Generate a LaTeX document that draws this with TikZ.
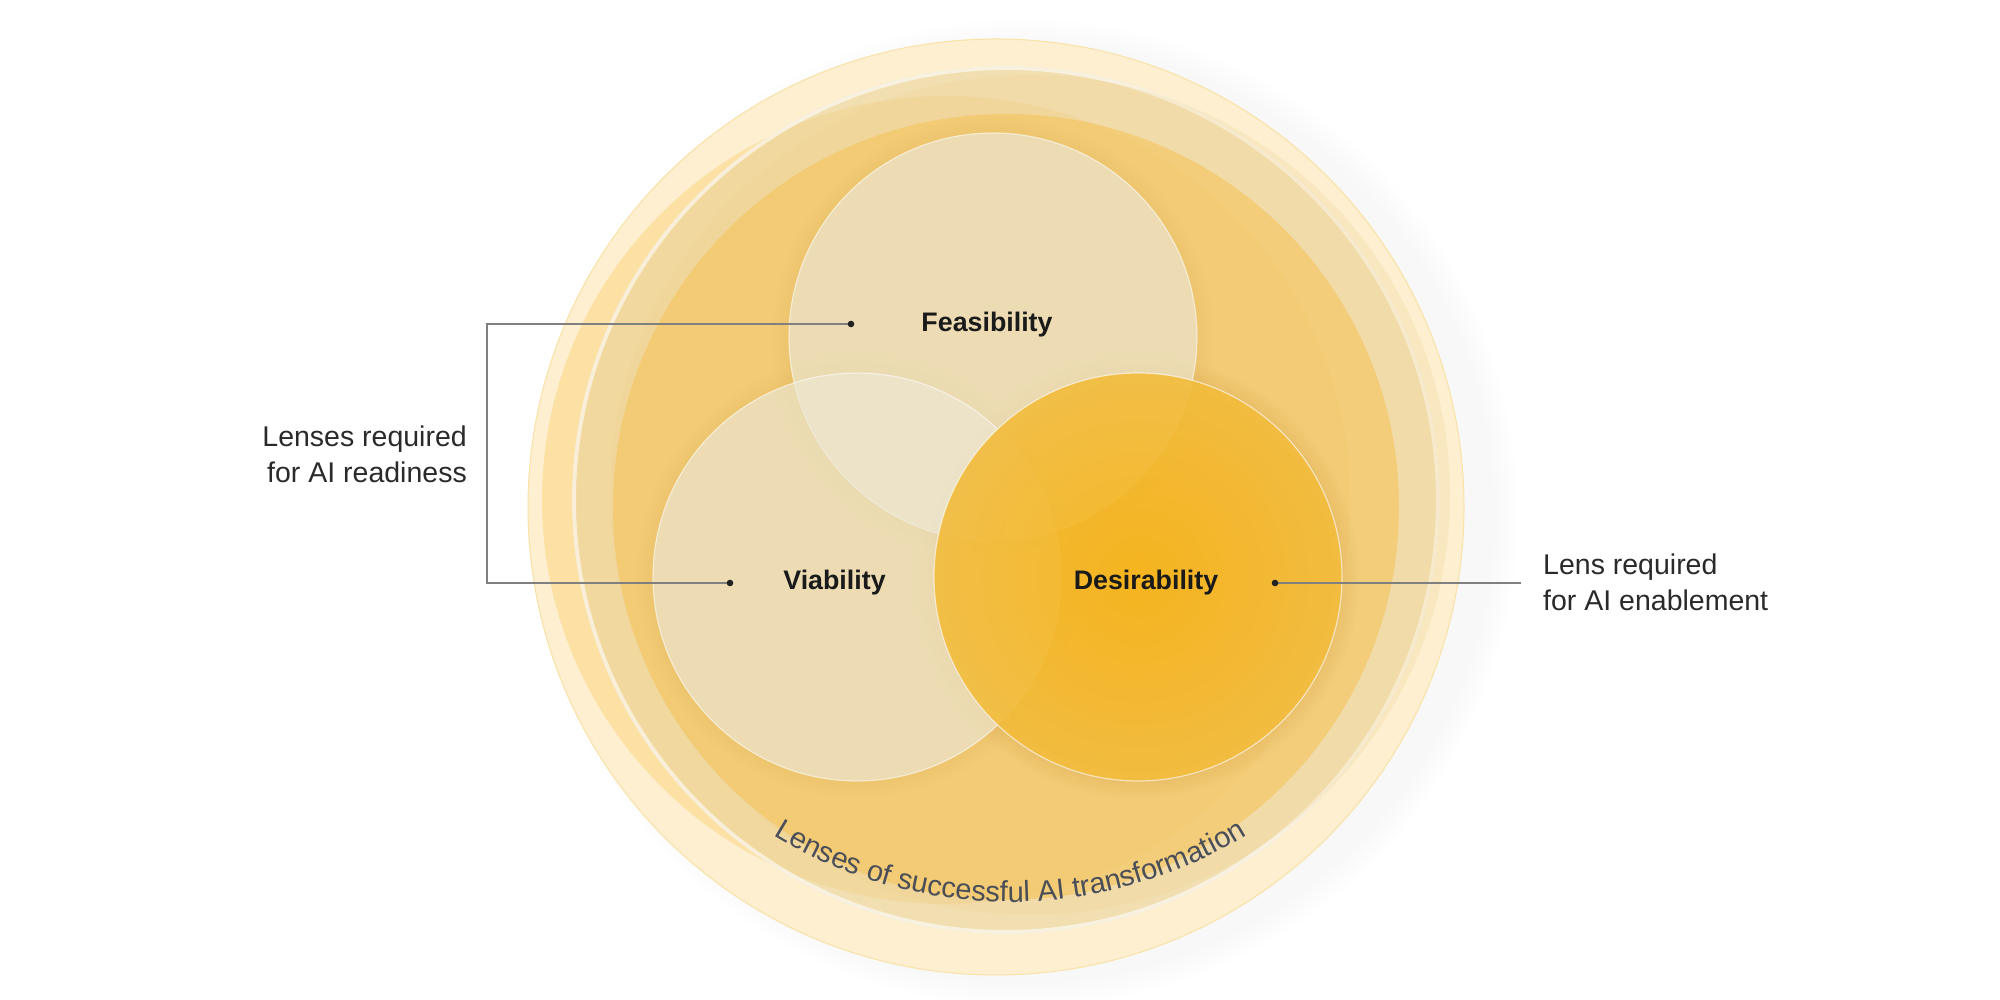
\documentclass[tikz,border=0pt]{standalone}
\usepackage{fontspec}
\setmainfont{Liberation Sans}
\usetikzlibrary{decorations.text}
\definecolor{cA}{HTML}{FDEFCF}
\definecolor{cAedge}{HTML}{F9E2A6}
\definecolor{cE}{HTML}{FDD888}
\definecolor{cB}{HTML}{E8D19A}
\definecolor{cC}{HTML}{EFD394}
\definecolor{cD}{HTML}{F5C45A}
\definecolor{cLens}{HTML}{EDE8D4}
\definecolor{cDesIn}{HTML}{F7B317}
\definecolor{cDesOut}{HTML}{F2BC3C}
\definecolor{cShadow}{HTML}{9A6A18}
\definecolor{cHalo}{HTML}{8A9A9A}
\definecolor{cConn}{HTML}{808080}
\definecolor{cDot}{HTML}{222222}
\definecolor{cLbl}{HTML}{2A2A2A}
\definecolor{cBold}{HTML}{1A1A1A}
\definecolor{cCurve}{HTML}{4A4E58}
\newcommand{\curvefont}{\fontsize{29}{30}\selectfont}
\begin{document}
\begin{tikzpicture}[x=1pt,y=1pt,
  conn/.style={draw=cConn, line width=1.3pt},
  dotmark/.style={fill=cDot},
  lbl/.style={font=\fontsize{28.5}{36}\selectfont, text=cLbl, inner sep=0pt},
  boldlbl/.style={font=\fontsize{26.8}{30}\selectfont\bfseries, text=cBold, inner sep=0pt, anchor=base},
  lens/.style={fill=cLens, fill opacity=0.68, draw=white, draw opacity=0.55, line width=1.2pt},
]
\useasboundingbox (0,0) rectangle (2000,1000);
\fill[white] (0,0) rectangle (2000,1000);

% soft outer shadow
\foreach \r in {470,474,...,494} \fill[cHalo, opacity=0.006] (1024,487) circle (\r);

% outer stack of lenses
\fill[cA] (996,493) circle (468);
\draw[cAedge, line width=1pt] (996,493) circle (468);
\fill[cE, fill opacity=0.6] (946,500) circle (404);
\fill[cB, fill opacity=0.55] (1006,500) circle (434);
\draw[white, draw opacity=0.6, line width=4pt] (1006,500) circle (432);
\fill[cC, fill opacity=0.25] (1030,505) circle (420);
\fill[cD, fill opacity=0.6] (1006,493) circle (393);

% halos of the three lenses
\foreach \r in {206,209,...,221} {
  \fill[cShadow, opacity=0.006] (993,663) circle (\r);
  \fill[cShadow, opacity=0.006] (857,423) circle (\r);
  \fill[cShadow, opacity=0.010] (1138,423) circle (\r);
}

% three lenses
\path[lens] (993,663) circle (204);
\path[lens] (857,423) circle (204);
\shade[inner color=cDesIn, outer color=cDesOut, opacity=0.9] (1138,423) circle (204);
\draw[white, draw opacity=0.6, line width=1.2pt] (1138,423) circle (204);

% curved caption
\path[decorate, decoration={text along path, text align=center, text color=cCurve,
  text={|\curvefont|Lenses of successful AI transformation}}]
  (1010,550) ++(226:452) arc[start angle=226, end angle=314, radius=452];

% labels
\node[boldlbl] (feas) at (987,668) {Feasibility};
\node[boldlbl] (viab) at (834.5,410) {Viability};
\node[boldlbl] (desi) at (1146,410) {Desirability};

\node[lbl, align=right, anchor=base east] (ltext) at (467,517) {Lenses required\\for AI readiness};
\node[lbl, align=left, anchor=base west] (rtext) at (1543,389) {Lens required\\for AI enablement};

% connectors
\coordinate (fdot) at (851,676);
\coordinate (vdot) at (730,417);
\coordinate (ddot) at (1275,417);
\coordinate (brT) at (487,676);
\coordinate (brB) at (487,417);
\coordinate (rEnd) at (1521,417);
\draw[conn] (fdot) -- (brT) -- (brB) -- (vdot);
\draw[conn] (ddot) -- (rEnd);
\fill[dotmark] (fdot) circle (3.3);
\fill[dotmark] (vdot) circle (3.3);
\fill[dotmark] (ddot) circle (3.3);
\end{tikzpicture}
\end{document}
